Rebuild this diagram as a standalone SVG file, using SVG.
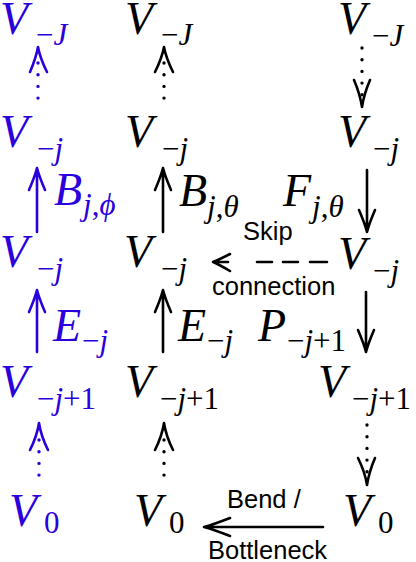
<svg xmlns="http://www.w3.org/2000/svg" width="416" height="562" viewBox="0 0 416 562">
<style>
.m{font-family:"Liberation Serif","Times New Roman",serif;font-style:italic;font-size:46px}
.sub{font-size:31px}
.up{font-style:normal}
.blue{fill:#2a00dc}
.blk{fill:#000}
.s{font-family:"Liberation Sans",Arial,sans-serif;font-size:25.5px;fill:#000}
.a{fill:none;stroke-width:2.6;stroke-linecap:round;stroke-linejoin:round}
.ab{stroke:#2a00dc}
.ak{stroke:#000}
.dt{stroke-width:3.4;stroke-dasharray:0 11.7;stroke-linecap:round;fill:none}
</style>
<rect width="416" height="562" fill="#fff"/>
<g id="connectors">
  <!-- column 1 blue -->
  <path class="dt ab" d="M38,63 V100"/>
  <path class="a ab" d="M30,72 Q36,58 38,47 Q40,58 47,72"/>
  <path class="a ab" d="M37,232 V168 M29,190 Q35,176 37,168 Q39,176 45,190"/>
  <path class="a ab" d="M37,352 V290 M29,312 Q35,298 37,290 Q39,298 45,312"/>
  <path class="dt ab" d="M39,440 V478"/>
  <path class="a ab" d="M30,450 Q37,436 39,423 Q41,436 48,450"/>
  <!-- column 2 -->
  <path class="dt ak" d="M164,63 V100"/>
  <path class="a ak" d="M155,72 Q162,58 164,47 Q166,58 173,72"/>
  <path class="a ak" d="M163,232 V168 M155,190 Q161,176 163,168 Q165,176 171,190"/>
  <path class="a ak" d="M163,352 V290 M155,312 Q161,298 163,290 Q165,298 171,312"/>
  <path class="dt ak" d="M164,440 V478"/>
  <path class="a ak" d="M155,450 Q162,436 164,423 Q166,436 173,450"/>
  <!-- column 3 -->
  <path class="dt ak" d="M362,48 V95"/>
  <path class="a ak" d="M354,80 Q360,94 362,107 Q364,94 370,80"/>
  <path class="a ak" d="M367,170 V232 M359,210 Q365,224 367,232 Q369,224 375,210"/>
  <path class="a ak" d="M366,292 V352 M358,330 Q364,344 366,352 Q368,344 374,330"/>
  <path class="dt ak" d="M367,425 V472"/>
  <path class="a ak" d="M358,458 Q365,472 367,485 Q369,472 375,458"/>
  <!-- skip connection -->
  <path class="a ak" d="M257,262 H272 M283,262 H298 M310,262 H327 M213,262 H228 M230,254 Q218,260 213,262 Q218,264 230,271"/>
  <!-- bend / bottleneck -->
  <path class="a ak" d="M323,527 H204 M230,518 Q212,525 204,527 Q212,529 230,536"/>
</g>
<g id="col1">
  <g id="n1_VJ"><text class="m blue" x="0" y="34">V<tspan class="sub up" x="36" y="45">−</tspan><tspan class="sub">J</tspan></text></g>
  <g id="n1_Vj_a"><text class="m blue" x="0" y="147">V<tspan class="sub up" x="37" y="159">−</tspan><tspan class="sub">j</tspan></text></g>
  <g id="n1_B"><text class="m blue" x="54" y="205">B<tspan class="sub" x="83" y="215">j</tspan><tspan class="sub up">,</tspan><tspan class="sub">ϕ</tspan></text></g>
  <g id="n1_Vj_b"><text class="m blue" x="0" y="267">V<tspan class="sub up" x="37" y="279">−</tspan><tspan class="sub">j</tspan></text></g>
  <g id="n1_E"><text class="m blue" x="53" y="341">E<tspan class="sub up" x="82" y="351">−</tspan><tspan class="sub">j</tspan></text></g>
  <g id="n1_Vj1"><text class="m blue" x="0" y="397">V<tspan class="sub up" x="37" y="409">−</tspan><tspan class="sub">j</tspan><tspan class="sub up">+1</tspan></text></g>
  <g id="n1_V0"><text class="m blue" x="9" y="526">V<tspan class="sub up" x="44" y="533">0</tspan></text></g>
</g>
<g id="col2">
  <g id="n2_VJ"><text class="m blk" x="125" y="34">V<tspan class="sub up" x="161" y="45">−</tspan><tspan class="sub">J</tspan></text></g>
  <g id="n2_Vj_a"><text class="m blk" x="125" y="147">V<tspan class="sub up" x="162" y="159">−</tspan><tspan class="sub">j</tspan></text></g>
  <g id="n2_B"><text class="m blk" x="179" y="206">B<tspan class="sub" x="207" y="217">j</tspan><tspan class="sub up">,</tspan><tspan class="sub">θ</tspan></text></g>
  <g id="n2_Vj_b"><text class="m blk" x="124" y="267">V<tspan class="sub up" x="161" y="279">−</tspan><tspan class="sub">j</tspan></text></g>
  <g id="n2_E"><text class="m blk" x="178" y="341">E<tspan class="sub up" x="207" y="351">−</tspan><tspan class="sub">j</tspan></text></g>
  <g id="n2_Vj1"><text class="m blk" x="125" y="397">V<tspan class="sub up" x="160" y="409">−</tspan><tspan class="sub">j</tspan><tspan class="sub up">+1</tspan></text></g>
  <g id="n2_V0"><text class="m blk" x="134" y="526">V<tspan class="sub up" x="169" y="533">0</tspan></text></g>
</g>
<g id="col3">
  <g id="n3_VJ"><text class="m blk" x="338" y="34">V<tspan class="sub up" x="372" y="46">−</tspan><tspan class="sub">J</tspan></text></g>
  <g id="n3_Vj_a"><text class="m blk" x="338" y="147">V<tspan class="sub up" x="373" y="159">−</tspan><tspan class="sub">j</tspan></text></g>
  <g id="n3_F"><text class="m blk" x="283" y="206">F<tspan class="sub" x="312" y="217">j</tspan><tspan class="sub up">,</tspan><tspan class="sub">θ</tspan></text></g>
  <g id="n3_Vj_b"><text class="m blk" x="338" y="269">V<tspan class="sub up" x="373" y="281">−</tspan><tspan class="sub">j</tspan></text></g>
  <g id="n3_P"><text class="m blk" x="258" y="341">P<tspan class="sub up" x="287" y="351">−</tspan><tspan class="sub">j</tspan><tspan class="sub up">+1</tspan></text></g>
  <g id="n3_Vj1"><text class="m blk" x="318" y="397">V<tspan class="sub up" x="352" y="409">−</tspan><tspan class="sub">j</tspan><tspan class="sub up">+1</tspan></text></g>
  <g id="n3_V0"><text class="m blk" x="343" y="526">V<tspan class="sub up" x="378" y="533">0</tspan></text></g>
</g>
<g id="labels">
  <text class="s" x="243" y="240">Skip</text>
  <text class="s" x="212" y="295">connection</text>
  <text class="s" x="227" y="508">Bend /</text>
  <text class="s" x="208" y="559">Bottleneck</text>
</g>
</svg>
